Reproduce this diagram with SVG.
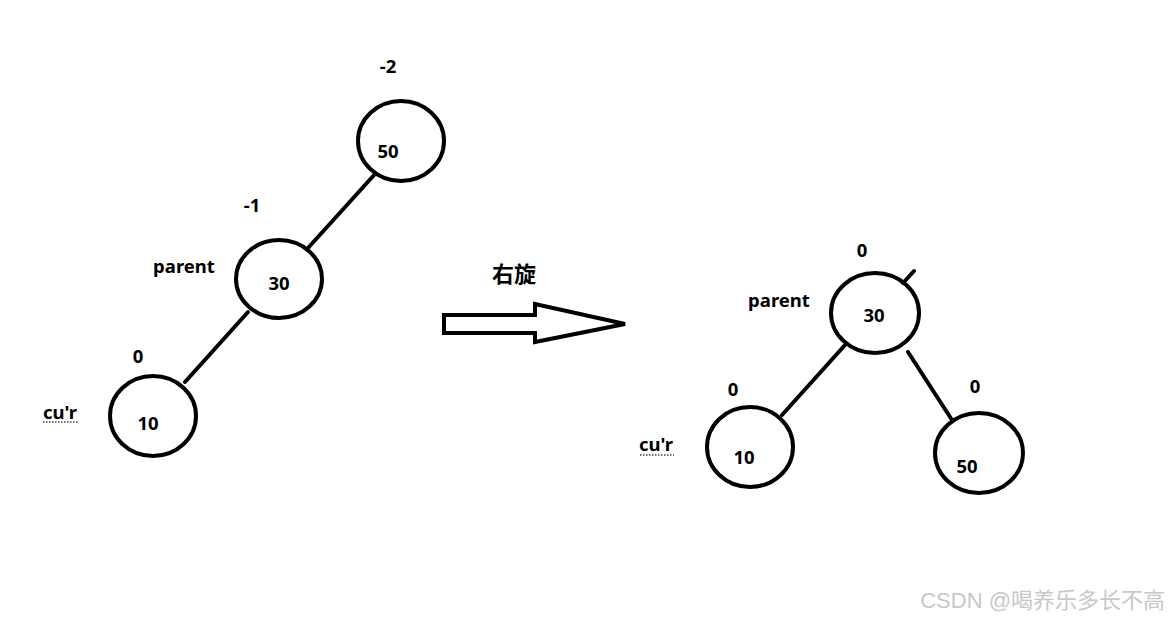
<svg xmlns="http://www.w3.org/2000/svg" width="1169" height="620" viewBox="0 0 1169 620">
<style>
.n{fill:none;stroke:#000;stroke-width:4}
.e{stroke:#000;stroke-width:4;stroke-linecap:round;fill:none}
.t{font-family:"Noto Sans","Open Sans",sans-serif;font-weight:bold;font-size:18.5px;fill:#000;text-anchor:middle}
.u{stroke:#444;stroke-width:1.5;stroke-dasharray:1.5 1.5}
</style>
<rect width="1169" height="620" fill="#fff"/>
<g id="connectors">
<line class="e" x1="375" y1="174" x2="308" y2="248"/>
<line class="e" x1="248" y1="312" x2="185" y2="382"/>
<line class="e" x1="903" y1="283" x2="914" y2="271"/>
<line class="e" x1="845" y1="345" x2="782" y2="415"/>
<line class="e" x1="908" y1="352" x2="952" y2="420"/>
</g>
<g id="left-50"><ellipse class="n" cx="401" cy="141" rx="43" ry="40"/><text class="t" x="388" y="158">50</text><text class="t" x="388" y="73">-2</text></g>
<g id="left-30"><ellipse class="n" cx="279" cy="279" rx="43" ry="39"/><text class="t" x="279" y="290">30</text><text class="t" x="252" y="212">-1</text><text class="t" x="184" y="273">parent</text></g>
<g id="left-10"><ellipse class="n" cx="153" cy="416" rx="43" ry="40"/><text class="t" x="148" y="430">10</text><text class="t" x="138" y="363">0</text><text class="t" x="60" y="419">cu'r</text><line class="u" x1="43" y1="422" x2="78" y2="422"/></g>
<g id="arrow"><polygon points="444,315 535,315 535,304 625,324 535,342 535,333 444,333" fill="#fff" stroke="#000" stroke-width="4" stroke-linejoin="miter"/><text x="514" y="282" font-family="Noto Sans CJK SC,sans-serif" font-weight="bold" font-size="22" fill="#000" text-anchor="middle">右旋</text></g>
<g id="right-30"><ellipse class="n" cx="875" cy="313" rx="44" ry="40"/><text class="t" x="874" y="322">30</text><text class="t" x="862" y="257">0</text><text class="t" x="779" y="307">parent</text></g>
<g id="right-10"><ellipse class="n" cx="750" cy="447" rx="43" ry="40"/><text class="t" x="744" y="464">10</text><text class="t" x="733" y="396">0</text><text class="t" x="656" y="451">cu'r</text><line class="u" x1="640" y1="455" x2="674" y2="455"/></g>
<g id="right-50"><ellipse class="n" cx="979" cy="453" rx="44" ry="40"/><text class="t" x="967" y="473">50</text><text class="t" x="975" y="393">0</text></g>
<text x="1165" y="608" font-family="Liberation Sans,Noto Sans CJK SC,sans-serif" font-size="22" fill="#c8c8c8" text-anchor="end">CSDN @喝养乐多长不高</text>
</svg>
